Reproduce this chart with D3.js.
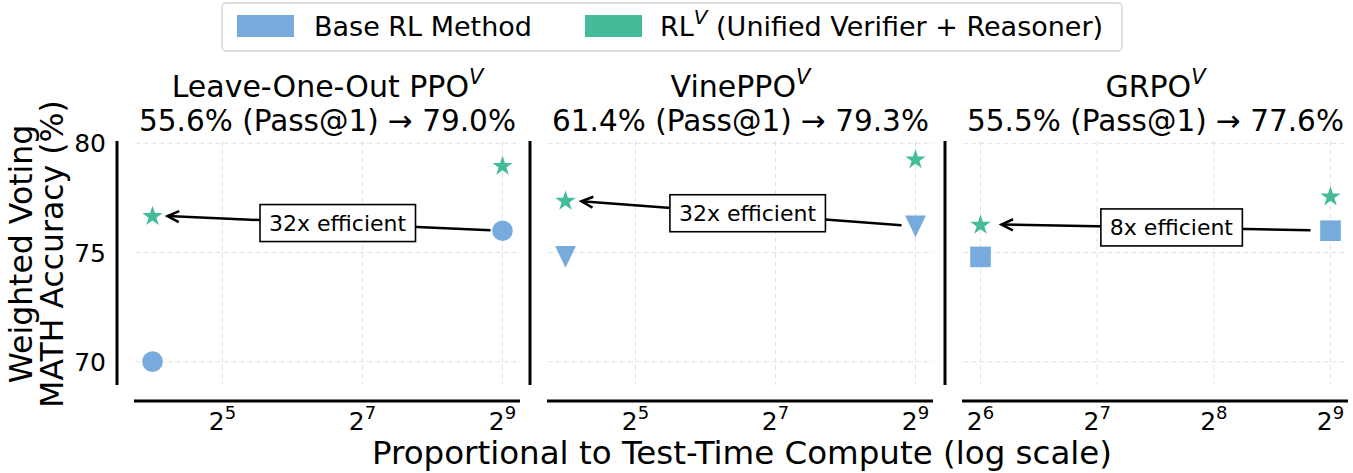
<!DOCTYPE html>
<html>
<head>
<meta charset="utf-8">
<script src="https://cdn.jsdelivr.net/npm/d3@7"></script>
<style>
  body { margin: 0; background: #fff; }
  svg { display: block; font-family: "DejaVu Sans", sans-serif; }
</style>
</head>
<body>
<svg id="chart" width="1353" height="473"></svg>
<script>
// ------------------- Data -------------------
const methods = ["Leave-One-Out PPO", "VinePPO", "GRPO"];
const passAt1 = [55.6, 61.4, 55.5];
const finalAcc = [79.0, 79.3, 77.6];
const computeBudget = [[16, 512], [16, 512], [64, 512]];
const baseAcc = [[70.0, 76.0], [74.8, 76.2], [74.8, 76.0]];
const rlvAcc = [[76.7, 79.0], [77.4, 79.3], [76.3, 77.6]];
const baseShapes = ["circle", "triangle", "square"];
const xTickValues = [[32, 128, 512], [32, 128, 512], [64, 128, 256, 512]];
const yTickValues = [70, 75, 80];
const yDomain = [68.93, 80.11];
const efficiencyLabels = ["32x efficient", "32x efficient", "8x efficient"];
const labelCompute = [100, 97, 199];

// ------------------- Setup -------------------
const svg = d3.select("#chart");
const blue = "#77AADD", green = "#44BB99";

const panelLeft = [135, 548, 963];
const panelW = 385;
const plotTop = 141, plotBottom = 385;
const shrinkStart = [12, 14, 20], shrinkEnd = [15, 16, 21];

const y = d3.scaleLinear().domain(yDomain).range([plotBottom, plotTop]);

// superscript helper: base text + small raised text
function supText(sel, base, sup, supSize, italic) {
  sel.append("tspan").text(base);
  sel.append("tspan")
    .attr("dy", -supSize * 0.6)
    .attr("font-size", supSize)
    .attr("font-style", italic ? "italic" : null)
    .text(sup);
}

function drawMarker(g, shape, cx, cy, color) {
  if (shape === "circle") {
    g.append("circle").attr("cx", cx).attr("cy", cy).attr("r", 10.3).attr("fill", color);
  } else if (shape === "square") {
    g.append("rect").attr("x", cx - 10.3).attr("y", cy - 10.3)
      .attr("width", 20.6).attr("height", 20.6).attr("fill", color);
  } else if (shape === "triangle") {
    g.append("path")
      .attr("d", `M${cx - 10.4},${cy - 10.8}L${cx + 10.4},${cy - 10.8}L${cx},${cy + 10.8}Z`)
      .attr("fill", color);
  } else {
    g.append("path")
      .attr("transform", `translate(${cx},${cy + 1})`)
      .attr("d", d3.symbol(d3.symbolStar, 128)())
      .attr("fill", color);
  }
}

// ------------------- Panels -------------------
methods.forEach((name, i) => {
  const x0 = panelLeft[i], x1 = x0 + panelW;
  const lo = Math.log2(d3.min(computeBudget[i])), hi = Math.log2(d3.max(computeBudget[i]));
  const pad = (hi - lo) * 0.05;
  const x = d3.scaleLog().base(2)
    .domain([2 ** (lo - pad), 2 ** (hi + pad)])
    .range([x0, x1]);

  const g = svg.append("g");

  // grid
  g.selectAll("line.vgrid").data(xTickValues[i]).join("line")
    .attr("x1", d => x(d)).attr("x2", d => x(d))
    .attr("y1", plotTop).attr("y2", plotBottom)
    .attr("stroke", "#e2e2e2").attr("stroke-width", 1).attr("stroke-dasharray", "5,3");
  g.selectAll("line.hgrid").data(yTickValues).join("line")
    .attr("x1", x0).attr("x2", x1)
    .attr("y1", d => y(d)).attr("y2", d => y(d))
    .attr("stroke", "#e2e2e2").attr("stroke-width", 1).attr("stroke-dasharray", "5,3");

  // spines (offset, seaborn despine style)
  g.append("line").attr("x1", x0 - 18).attr("x2", x0 - 18)
    .attr("y1", plotTop).attr("y2", plotBottom)
    .attr("stroke", "#000").attr("stroke-width", 3);
  g.append("line").attr("x1", x0 - 1).attr("x2", x1)
    .attr("y1", 401).attr("y2", 401)
    .attr("stroke", "#000").attr("stroke-width", 3);

  // x tick labels
  xTickValues[i].forEach(v => {
    const t = g.append("text")
      .attr("x", x(v)).attr("y", 430)
      .attr("text-anchor", "middle")
      .attr("font-size", 25);
    supText(t, "2", String(Math.log2(v)), 18, false);
  });

  // y tick labels only on first panel
  if (i === 0) {
    g.selectAll("text.ytick").data(yTickValues).join("text")
      .attr("x", x0 - 29).attr("y", d => y(d))
      .attr("dy", "0.36em")
      .attr("text-anchor", "end")
      .attr("font-size", 25)
      .text(d => d);
  }

  // title
  const t1 = g.append("text")
    .attr("x", (x0 + x1) / 2).attr("y", 97)
    .attr("text-anchor", "middle").attr("font-size", 30);
  supText(t1, name, "V", 21, true);
  g.append("text")
    .attr("x", (x0 + x1) / 2).attr("y", 131)
    .attr("text-anchor", "middle").attr("font-size", 29.5)
    .attr("xml:space", "preserve")
    .text(`${passAt1[i].toFixed(1)}% (Pass@1) \u2192 ${finalAcc[i].toFixed(1)}%`);

  // markers
  computeBudget[i].forEach((c, k) => {
    drawMarker(g, baseShapes[i], x(c), y(baseAcc[i][k]), blue);
    drawMarker(g, "star", x(c), y(rlvAcc[i][k]), green);
  });

  // efficiency arrow: from base at max compute to RL^V at min compute
  const sx = x(computeBudget[i][1]), sy = y(baseAcc[i][1]);
  const ex = x(computeBudget[i][0]), ey = y(rlvAcc[i][0]);
  const len = Math.hypot(ex - sx, ey - sy);
  const ux = (ex - sx) / len, uy = (ey - sy) / len;
  const ax = sx + ux * shrinkStart[i], ay = sy + uy * shrinkStart[i];
  const bx = ex - ux * shrinkEnd[i], by = ey - uy * shrinkEnd[i];
  g.append("line").attr("x1", ax).attr("y1", ay).attr("x2", bx).attr("y2", by)
    .attr("stroke", "#000").attr("stroke-width", 2.5);
  const hl = 11.5, hw = 5.5;
  const px = -uy, py = ux;
  g.append("path")
    .attr("d", `M${bx - ux * hl + px * hw},${by - uy * hl + py * hw}L${bx},${by}L${bx - ux * hl - px * hw},${by - uy * hl - py * hw}`)
    .attr("fill", "none").attr("stroke", "#000").attr("stroke-width", 2.5);

  // label box
  const lx = x(labelCompute[i]);
  const ly = y((baseAcc[i][1] + rlvAcc[i][0]) / 2);
  const box = g.append("rect");
  const lab = g.append("text")
    .attr("x", lx).attr("y", ly).attr("dy", "0.36em")
    .attr("text-anchor", "middle").attr("font-size", 22)
    .text(efficiencyLabels[i]);
  const bb = lab.node().getBBox();
  box.attr("x", bb.x - 9).attr("y", ly - 18.5)
    .attr("width", bb.width + 18).attr("height", 37)
    .attr("fill", "#fff").attr("stroke", "#000").attr("stroke-width", 1.6);
});

// ------------------- Axis titles -------------------
svg.append("text")
  .attr("x", 742).attr("y", 464)
  .attr("text-anchor", "middle").attr("font-size", 32.5)
  .text("Proportional to Test-Time Compute (log scale)");

const ylab = svg.append("g").attr("transform", "translate(0,254) rotate(-90)");
ylab.append("text").attr("x", 0).attr("y", 32)
  .attr("text-anchor", "middle").attr("font-size", 31.5).text("Weighted Voting");
ylab.append("text").attr("x", 0).attr("y", 63)
  .attr("text-anchor", "middle").attr("font-size", 31.5).text("MATH Accuracy (%)");

// ------------------- Legend -------------------
const legend = svg.append("g");
legend.append("rect")
  .attr("x", 222).attr("y", 3).attr("width", 900).attr("height", 48).attr("rx", 4)
  .attr("fill", "#fff").attr("stroke", "#d0d0d0").attr("stroke-width", 1.3);
legend.append("rect").attr("x", 237).attr("y", 15).attr("width", 57).attr("height", 22).attr("fill", blue);
legend.append("text").attr("x", 314).attr("y", 36).attr("font-size", 27).text("Base RL Method");
legend.append("rect").attr("x", 585).attr("y", 15).attr("width", 57).attr("height", 22).attr("fill", green);
const lt = legend.append("text").attr("x", 660).attr("y", 36).attr("font-size", 27);
lt.append("tspan").text("RL");
lt.append("tspan").attr("dy", -12).attr("font-size", 20).attr("font-style", "italic").text("V");
lt.append("tspan").attr("dy", 12).text(" (Unified Verifier + Reasoner)");
</script>
</body>
</html>
